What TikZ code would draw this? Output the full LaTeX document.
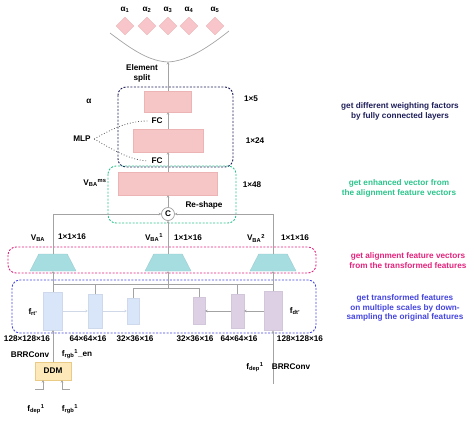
\documentclass[tikz,border=0pt]{standalone}
\usepackage{fontspec}
\setmainfont{Liberation Sans}
\usetikzlibrary{shapes.geometric,arrows.meta}
\definecolor{pinkbox}{HTML}{F6C6C6}
\definecolor{pinkline}{HTML}{ECB4B4}
\definecolor{diapink}{HTML}{F7C5CA}
\definecolor{tealbox}{HTML}{A6DDE0}
\definecolor{rgbbox}{HTML}{D9E5F8}
\definecolor{depbox}{HTML}{DDD0E5}
\definecolor{ddmfill}{HTML}{FCE8B8}
\definecolor{ddmline}{HTML}{E9CB85}
\definecolor{linegray}{HTML}{A3A3A3}
\definecolor{navyc}{HTML}{1E1E5A}
\definecolor{greenc}{HTML}{2CC48C}
\definecolor{magc}{HTML}{E3237C}
\definecolor{bluec}{HTML}{4545E0}
\begin{document}
\begin{tikzpicture}[x=1pt,y=-1pt,
	font=\fontsize{8.2}{10}\selectfont\bfseries,
	line/.style={draw=linegray,line width=0.7pt},
	arr/.style={line,-{Stealth[length=2.5pt,width=2.8pt]}},
	alpha/.style={shape=diamond,fill=diapink,draw=pinkline,line width=0.4pt,minimum width=18,minimum height=18,inner sep=0},
	vec/.style={fill=pinkbox,draw=pinkline,line width=0.4pt,inner sep=0},
	trap/.style={shape=trapezium,trapezium left angle=73,trapezium right angle=73,trapezium stretches=true,fill=tealbox,draw=tealbox!90!black,line width=0.3pt,minimum width=46,minimum height=17,inner sep=1pt},
	rgbf/.style={fill=rgbbox,draw=rgbbox!95!black,line width=0.3pt,inner sep=0},
	depf/.style={fill=depbox,draw=depbox!95!black,line width=0.3pt,inner sep=0},
	catnode/.style={circle,draw=linegray,fill=white,line width=0.7pt,minimum size=13,inner sep=0},
	frame/.style={dash pattern=on 2pt off 1.5pt,line width=0.9pt,rounded corners=8pt}]
		\useasboundingbox (0,0) rectangle (474,421);
		\foreach \x/\i in {125/1,147/2,168/3,189/4,215/5}{
			\node[alpha] (a\i) at (\x,26) {};
			\node (la\i) at (\x,10) {α\textsubscript{\i}};
		}
		\coordinate (arcL) at (110,33);
		\coordinate (arcR) at (229,31);
		\coordinate (split) at (168,62);
		\draw[line] (arcL) .. controls (135,52) and (150,61) .. (split) .. controls (186,61) and (205,50) .. (arcR);
		\node[align=center] (esplit) at (142,73) {Element\\split};
		\draw[frame,draw=navyc] (118,87) rectangle (233,167);
		\draw[frame,draw=greenc] (108,166) rectangle (236,223);
		\draw[frame,draw=magc] (8,247) rectangle (316,273);
		\draw[frame,draw=bluec] (12,280) rectangle (316,333);
		\node[vec,minimum width=47,minimum height=21] (v5) at (168,101.5) {};
		\node[vec,minimum width=70,minimum height=23] (v24) at (168,140.5) {};
		\node[vec,minimum width=99,minimum height=23] (v48) at (168,183.5) {};
		\node[catnode] (cat) at (168,214) {C};
		\node[trap] (tA) at (53,262.5) {};
		\node[trap] (tB) at (168,262.5) {};
		\node[trap] (tC) at (273,262.5) {};
		\node[rgbf,minimum width=19,minimum height=38] (r1) at (53,311) {};
		\node[rgbf,minimum width=14,minimum height=34] (r2) at (95,311) {};
		\node[rgbf,minimum width=12,minimum height=26] (r3) at (133,311) {};
		\node[depf,minimum width=12,minimum height=27] (d3) at (199,311) {};
		\node[depf,minimum width=13,minimum height=34] (d2) at (237.5,311) {};
		\node[depf,minimum width=18,minimum height=39] (d1) at (273,311) {};
		\node[fill=ddmfill,draw=ddmline,line width=0.4pt,minimum width=36,minimum height=18,inner sep=0] (ddm) at (53,371) {DDM};
		\draw[arr] (v5) -- (split);
		\draw[arr] (v24) -- (v5);
		\draw[arr] (v48) -- (v24);
		\draw[arr] (cat) -- (v48);
		\draw[arr] (tA.north) |- (cat.west);
		\draw[arr] (tC.north) |- (cat.east);
		\draw[arr] (tB) -- (cat);
		\coordinate (busL) at (53,284);
		\coordinate (busR) at (273,284);
		\coordinate (inL) at (133,288);
		\coordinate (inM) at (168,288);
		\coordinate (inR) at (199,288);
		\draw[line] (busL) -- (busR);
		\draw[line] (r2.north) -- (r2.north |- busL);
		\draw[line] (d2.north) -- (d2.north |- busL);
		\draw[line] (r3.north) -- (inL) -- (inR) -- (d3.north);
		\draw[arr] (inM) -- (tB);
		\draw[arr] (r1) -- (tA);
		\draw[arr] (d1) -- (tC);
		\draw[arr,draw=rgbbox!80!linegray] (r1) -- (r2);
		\draw[arr,draw=rgbbox!80!linegray] (r2) -- (r3);
		\draw[arr] (d1) -- (d2);
		\draw[arr] (d2) -- (d3);
		\draw[arr] (ddm) -- (r1);
		\coordinate (depL) at (35,389);
		\coordinate (rgbL) at (70,389);
		\coordinate (depR) at (273,384);
		\draw[arr] (depL) -| ([xshift=-10pt]ddm.south);
		\draw[arr] (rgbL) -| ([xshift=9pt]ddm.south);
		\draw[arr] (depR) -- (d1);
		\node (lalpha) at (89,101) {α};
		\node (l5) at (251,99) {1×5};
		\node (fc1) at (157,121) {FC};
		\node (mlp) at (82,139) {MLP};
		\node (l24) at (255,141) {1×24};
		\node (fc2) at (157,161) {FC};
		\draw[dotted,draw=black!65,line width=0.8pt] (mlp.east) .. controls (115,127) and (130,121) .. (fc1.west);
		\draw[dotted,draw=black!65,line width=0.8pt] (mlp.east) .. controls (115,151) and (130,160) .. (fc2.west);
		\node (lms) at (95,183) {V\textsubscript{BA}\textsuperscript{ms}};
		\node (l48) at (252,185) {1×48};
		\node (reshape) at (204,205) {Re-shape};
		\node (lvA) at (38,238) {V\textsubscript{BA}};
		\node (lsA) at (72,237) {1×1×16};
		\node (lvB) at (154,238) {V\textsubscript{BA}\textsuperscript{1}};
		\node (lsB) at (188,238) {1×1×16};
		\node (lvC) at (256,238) {V\textsubscript{BA}\textsuperscript{2}};
		\node (lsC) at (295,238) {1×1×16};
		\node (lfrt) at (33,312) {f\textsubscript{rt'}};
		\node (lfdt) at (295,311) {f\textsubscript{dt'}};
		\node (s1) at (27,339) {128×128×16};
		\node (s2) at (88,339) {64×64×16};
		\node (s3) at (135,339) {32×36×16};
		\node (s4) at (195,339) {32×36×16};
		\node (s5) at (239,339) {64×64×16};
		\node (s6) at (300,339) {128×128×16};
		\node (brrL) at (30,355) {BRRConv};
		\node (rgben) at (77,354) {f\textsubscript{rgb}\textsuperscript{1}\_en};
		\node (ldepL) at (36,409) {f\textsubscript{dep}\textsuperscript{1}};
		\node (lrgbL) at (70,409) {f\textsubscript{rgb}\textsuperscript{1}};
		\node (ldepR) at (255,367) {f\textsubscript{dep}\textsuperscript{1}};
		\node (brrR) at (291,367) {BRRConv};
		\node[text=navyc,align=center] (nfc) at (400,111) {get different weighting factors\\by fully connected layers};
		\node[text=greenc,align=center] (nenh) at (399,188) {get enhanced vector from\\the alignment feature vectors};
		\node[text=magc,align=center] (nali) at (408,261) {get alignment feature vectors\\from the transformed features};
		\node[text=bluec,align=center,font=\fontsize{8.2}{9.5}\selectfont\bfseries] (ntra) at (405,308) {get transformed features\\on multiple scales by down-\\sampling the original features};
\end{tikzpicture}
\end{document}
